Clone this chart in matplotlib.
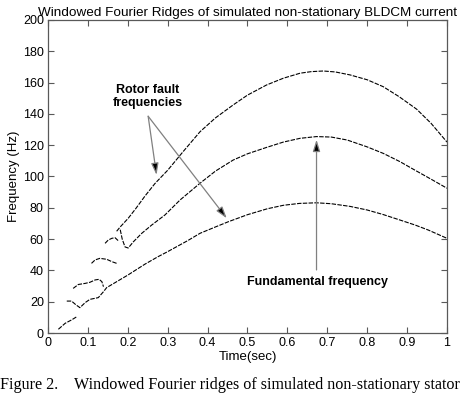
import matplotlib
matplotlib.use("Agg")
import matplotlib.pyplot as plt

plt.rcParams["font.family"] = ["Liberation Sans", "DejaVu Sans"]

# ridge traces (time in s, frequency in Hz)
fund_t = [0.047, 0.059, 0.070, 0.080, 0.093, 0.105, 0.126, 0.139, 0.147, 0.200,
          0.243, 0.276, 0.300, 0.350, 0.381, 0.420, 0.452, 0.500, 0.550, 0.590,
          0.630, 0.673, 0.710, 0.757, 0.800, 0.840, 0.882, 0.920, 0.953, 1.000]
fund_f = [20.4, 20.4, 18.0, 16.2, 19.4, 21.5, 22.6, 26.4, 29.0, 37.0,
          44.0, 48.8, 52.0, 59.0, 63.7, 67.8, 71.1, 75.6, 79.4, 81.6,
          82.8, 83.2, 82.6, 80.9, 78.6, 75.7, 72.2, 69.0, 65.8, 60.5]

mid_t = [0.181, 0.186, 0.193, 0.201, 0.214, 0.235, 0.260, 0.293, 0.331, 0.381,
         0.420, 0.464, 0.500, 0.548, 0.590, 0.632, 0.673, 0.710, 0.750, 0.799,
         0.840, 0.882, 0.920, 0.960, 1.000]
mid_f = [66.0, 60.0, 55.0, 54.3, 58.3, 63.7, 69.0, 75.4, 85.0, 95.7,
         103.5, 110.5, 114.5, 118.6, 122.0, 124.4, 125.5, 125.2, 123.3, 119.0,
         114.8, 109.5, 104.0, 98.3, 92.5]

top_t = [0.172, 0.180, 0.201, 0.220, 0.243, 0.268, 0.300, 0.339, 0.381, 0.420,
         0.464, 0.500, 0.548, 0.590, 0.632, 0.660, 0.690, 0.720, 0.757, 0.800,
         0.840, 0.880, 0.924, 0.960, 1.000]
top_f = [65.0, 67.5, 73.3, 79.5, 87.5, 95.5, 104.0, 116.0, 128.6, 137.5,
         145.7, 152.0, 158.5, 162.8, 166.0, 167.0, 167.4, 166.8, 164.9, 161.8,
         157.4, 151.0, 143.0, 134.0, 122.0]

# short broken pieces in the start-up region
low_t = [0.026, 0.043, 0.060, 0.072]
low_f = [2.4, 6.2, 8.5, 10.4]
frag32_t = [0.063, 0.076, 0.093, 0.105, 0.118, 0.128, 0.135, 0.139]
frag32_f = [28.5, 31.0, 31.7, 32.4, 33.9, 34.3, 32.8, 29.6]
frag47_t = [0.109, 0.118, 0.130, 0.147, 0.160, 0.172]
frag47_f = [44.5, 46.7, 47.7, 47.1, 45.6, 44.5]
frag60_t = [0.143, 0.151, 0.160, 0.168, 0.178]
frag60_f = [57.3, 59.4, 60.5, 60.9, 58.5]

x_ticks = [i / 10 for i in range(11)]
x_labels = ["0", "0.1", "0.2", "0.3", "0.4", "0.5", "0.6", "0.7", "0.8", "0.9", "1"]
y_ticks = list(range(0, 201, 20))

fig = plt.figure(figsize=(4.74, 3.94), dpi=100)
ax = fig.add_axes([0.1013, 0.1548, 0.8417, 0.7945])

traces = [(fund_t, fund_f), (mid_t, mid_f), (top_t, top_f), (low_t, low_f),
          (frag32_t, frag32_f), (frag47_t, frag47_f), (frag60_t, frag60_f)]
for t, f in traces:
    ax.plot(t, f, color="black", lw=0.8, linestyle=(0, (4, 1.2)))

ax.set_xlim(0, 1)
ax.set_ylim(0, 200)
ax.set_xticks(x_ticks)
ax.set_xticklabels(x_labels)
ax.set_yticks(y_ticks)
ax.tick_params(direction="in", length=4, top=True, right=True,
               labelsize=9, color="0.35", pad=3)
for s in ax.spines.values():
    s.set_color("0.35")
    s.set_linewidth(0.9)

ax.set_xlabel("Time(sec)", fontsize=9.5, labelpad=1)
ax.set_ylabel("Frequency (Hz)", fontsize=9.5, labelpad=2)
ax.set_title("Windowed Fourier Ridges of simulated non-stationary BLDCM current",
             fontsize=9.7, pad=3)

arrow = dict(arrowstyle="-|>,head_length=0.7,head_width=0.22",
             edgecolor="0.5", facecolor="black", lw=0.9, shrinkA=0, shrinkB=0)
ax.text(0.25, 151, "Rotor fault\nfrequencies", ha="center", va="center",
        fontsize=9, fontweight="bold", linespacing=1.15)
ax.annotate("", xy=(0.272, 101), xytext=(0.251, 138.5), arrowprops=arrow)
ax.annotate("", xy=(0.448, 73.3), xytext=(0.251, 138.5), arrowprops=arrow)

ax.text(0.675, 32.8, "Fundamental frequency", ha="center", va="center",
        fontsize=9, fontweight="bold")
ax.annotate("", xy=(0.673, 123.5), xytext=(0.673, 40.3), arrowprops=arrow)

# caption under the figure
fig.text(0.0, 0.003, "Figure 2.    Windowed Fourier ridges of simulated non-stationary stator",
         family=["Liberation Serif", "DejaVu Serif"], fontsize=11.6, va="bottom", ha="left")

fig.savefig("out.png", dpi=100)
